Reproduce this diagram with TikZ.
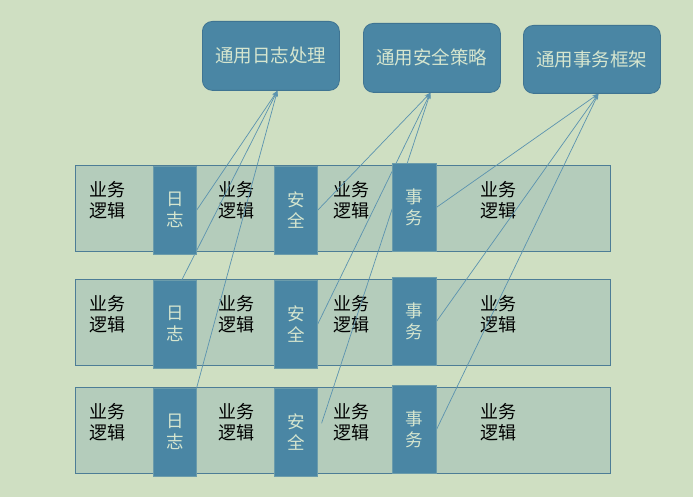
\documentclass[tikz,border=0pt]{standalone}
\usepackage{fontspec}
\newfontfamily\cjk{Noto Sans CJK SC}
\usetikzlibrary{arrows.meta}

\pgfdeclarelayer{bg}
\pgfdeclarelayer{mid}
\pgfsetlayers{bg,mid,main}

\definecolor{paper}{HTML}{CFDFC2}
\definecolor{rowfill}{HTML}{B4CCBB}
\definecolor{rowline}{HTML}{4D7D96}
\definecolor{aspect}{HTML}{4A86A4}
\definecolor{aspectline}{HTML}{3F7492}
\definecolor{aspecttext}{HTML}{D6E6CF}
\definecolor{linkblue}{HTML}{5B93AF}

\tikzset{
  rowbox/.style={draw=rowline, fill=rowfill, line width=0.8pt,
    minimum width=535pt, minimum height=86pt, anchor=north west, inner sep=0pt},
  biztext/.style={font=\cjk\fontsize{18}{21}\selectfont, align=left, text=black},
  aspectbox/.style={fill=aspect, draw=aspect!75!paper, line width=0.6pt,
    minimum width=43pt, minimum height=88pt, anchor=north west, inner sep=0pt,
    text=aspecttext, font=\cjk\fontsize{17.5}{21}\selectfont, align=center},
  topbox/.style={fill=aspect, draw=aspectline, line width=0.8pt, rounded corners=10pt,
    minimum width=137pt, minimum height=69pt, anchor=north west, inner sep=0pt,
    text=aspecttext, font=\cjk\fontsize{18.5}{22}\selectfont},
  linkarrow/.style={draw=linkblue, line width=0.7pt, -{Stealth[length=6pt,width=4.5pt]}}
}

\begin{document}
\begin{tikzpicture}[x=1pt,y=-1pt]
  \begin{pgfonlayer}{bg}
    \fill[paper] (0,0) rectangle (693,497);
  \end{pgfonlayer}
  \useasboundingbox (0,0) rectangle (693,497);

  % 通用模块
  \node[topbox] (logtop) at (202,21) {通用日志处理};
  \node[topbox] (sectop) at (363,23) {通用安全策略};
  \node[topbox, minimum height=68pt] (txtop) at (523,25) {通用事务框架};

  \coordinate (logtip) at ([xshift=6.5pt]logtop.south);
  \coordinate (sectip) at ([xshift=-1.5pt]sectop.south);
  \coordinate (txtip) at ([xshift=6.5pt]txtop.south);

  % 三行业务
  \foreach \r/\t in {1/165,2/279,3/387}{
    \begin{pgfonlayer}{bg}
      \node[rowbox] (row\r) at (75,\t) {};
      \foreach \x [count=\i] in {107,236,351,498}
        \node[biztext] (biz\r\i) at (\x,\t+35) {业务\\逻辑};
    \end{pgfonlayer}
    \node[aspectbox] (log\r) at (153,\t+1) {日\\志};
    \node[aspectbox] (sec\r) at (274,\t+1) {安\\全};
    \node[aspectbox, minimum width=44pt] (tx\r) at (392,\t-2) {事\\务};
  }

  % 连线
  \begin{pgfonlayer}{mid}
    \draw[linkarrow] (log1.east) -- (logtip);
    \draw[linkarrow] ([xshift=7pt]log2.north) -- (logtip);
    \draw[linkarrow] (log3.north east) -- (logtip);
    \draw[linkarrow] (sec1.east) -- (sectip);
    \draw[linkarrow] (sec2.east) -- (sectip);
    \draw[linkarrow] ([xshift=4pt,yshift=9pt]sec3.east) -- (sectip);
    \foreach \r in {1,2,3}
      \draw[linkarrow] (tx\r.east) -- (txtip);
  \end{pgfonlayer}
\end{tikzpicture}
\end{document}
